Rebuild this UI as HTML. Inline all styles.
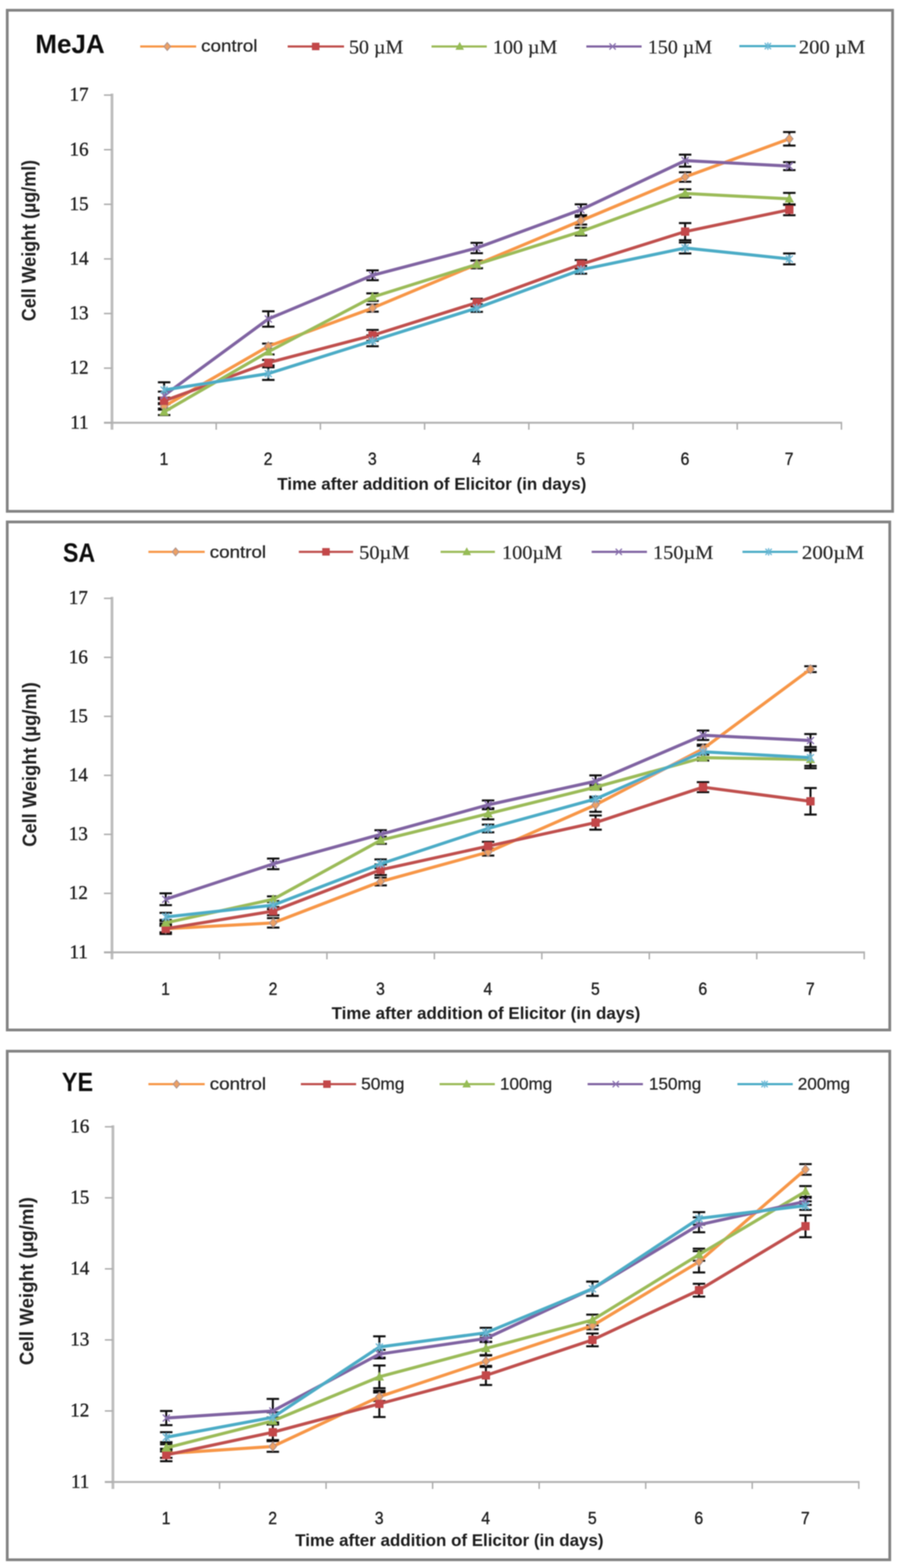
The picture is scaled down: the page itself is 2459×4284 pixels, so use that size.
<!DOCTYPE html>
<html><head><meta charset="utf-8"><title>Cell weight charts</title>
<style>html,body{margin:0;padding:0;background:#fff;}svg{display:block;}</style></head><body>
<svg width="2459" height="4284" viewBox="0 0 2459 4284">
<defs><filter id="soft" filterUnits="userSpaceOnUse" x="0" y="0" width="2459" height="4284"><feGaussianBlur stdDeviation="1.5"/></filter></defs>
<rect width="2459" height="4284" fill="#fff"/>
<g filter="url(#soft)">
<rect x="19.8" y="28" width="2418.9" height="1369" fill="none" stroke="#828282" stroke-width="7.5"/>
<text x="96.5" y="145" font-family="'Liberation Sans', Arial, sans-serif" font-size="72" font-weight="bold" text-anchor="start" fill="#111" textLength="189.5" lengthAdjust="spacingAndGlyphs">MeJA</text>
<line x1="383" y1="127" x2="536" y2="127" stroke="#F79646" stroke-width="6"/>
<path d="M457 116.2L466.2 127L457 137.8L447.8 127Z" fill="#EDA064" stroke="#A89088" stroke-width="2.5"/>
<text x="549.6" y="140.5" font-family="'Liberation Sans', Arial, sans-serif" font-size="47" font-weight="normal" text-anchor="start" fill="#262626" textLength="153.8" lengthAdjust="spacingAndGlyphs" stroke="#262626" stroke-width="0.7">control</text>
<line x1="786" y1="127" x2="940" y2="127" stroke="#C0504D" stroke-width="6"/>
<rect x="853.1" y="117.5" width="18.9" height="18.9" fill="#C4474A" stroke="#B54446" stroke-width="1.5"/>
<text x="953.4" y="146" font-family="'Liberation Serif', 'Times New Roman', serif" font-size="52" font-weight="normal" text-anchor="start" fill="#262626" textLength="148.4" lengthAdjust="spacingAndGlyphs" stroke="#262626" stroke-width="0.5">50 &#181;M</text>
<line x1="1179" y1="127" x2="1330" y2="127" stroke="#9BBB59" stroke-width="6"/>
<path d="M1256 116.1L1266.3 135.3L1245.7 135.3Z" fill="#96BE55" stroke="#92B453" stroke-width="1.5"/>
<text x="1346.8" y="146" font-family="'Liberation Serif', 'Times New Roman', serif" font-size="52" font-weight="normal" text-anchor="start" fill="#262626" textLength="175.8" lengthAdjust="spacingAndGlyphs" stroke="#262626" stroke-width="0.5">100 &#181;M</text>
<line x1="1602" y1="127" x2="1753" y2="127" stroke="#8064A2" stroke-width="6"/>
<path d="M1665.2 118.5L1682.2 135.6M1665.2 135.6L1682.2 118.5" stroke="#8870AE" stroke-width="3.5" fill="none"/>
<text x="1770" y="146" font-family="'Liberation Serif', 'Times New Roman', serif" font-size="52" font-weight="normal" text-anchor="start" fill="#262626" textLength="175.7" lengthAdjust="spacingAndGlyphs" stroke="#262626" stroke-width="0.5">150 &#181;M</text>
<line x1="2020" y1="126" x2="2174" y2="126" stroke="#4BACC6" stroke-width="6"/>
<path d="M2089.4 117.5L2106.6 134.6M2089.4 134.6L2106.6 117.5M2098 115.7L2098 136.3" stroke="#6CB8D6" stroke-width="3.5" fill="none"/>
<text x="2182.5" y="146" font-family="'Liberation Serif', 'Times New Roman', serif" font-size="52" font-weight="normal" text-anchor="start" fill="#262626" textLength="181.3" lengthAdjust="spacingAndGlyphs" stroke="#262626" stroke-width="0.5">200 &#181;M</text>
<line x1="306" y1="255.8" x2="306" y2="1174" stroke="#BDBDBD" stroke-width="7.5"/>
<line x1="284" y1="1155" x2="2301" y2="1155" stroke="#B4B4B4" stroke-width="5.5"/>
<g stroke="#ADADAD" stroke-width="4">
<line x1="284" y1="1155" x2="306" y2="1155"/>
<line x1="284" y1="1005.8" x2="306" y2="1005.8"/>
<line x1="284" y1="856.6" x2="306" y2="856.6"/>
<line x1="284" y1="707.4" x2="306" y2="707.4"/>
<line x1="284" y1="558.2" x2="306" y2="558.2"/>
<line x1="284" y1="409" x2="306" y2="409"/>
<line x1="284" y1="259.8" x2="306" y2="259.8"/>
<line x1="590.7" y1="1155" x2="590.7" y2="1174"/>
<line x1="875.4" y1="1155" x2="875.4" y2="1174"/>
<line x1="1160.1" y1="1155" x2="1160.1" y2="1174"/>
<line x1="1444.9" y1="1155" x2="1444.9" y2="1174"/>
<line x1="1729.6" y1="1155" x2="1729.6" y2="1174"/>
<line x1="2014.3" y1="1155" x2="2014.3" y2="1174"/>
<line x1="2299" y1="1155" x2="2299" y2="1174"/>
</g>
<text x="242" y="1170.5" font-family="'Liberation Serif', 'Times New Roman', serif" font-size="52" font-weight="normal" text-anchor="end" fill="#1e1e1e" stroke="#1e1e1e" stroke-width="0.9">11</text>
<text x="242" y="1021.3" font-family="'Liberation Serif', 'Times New Roman', serif" font-size="52" font-weight="normal" text-anchor="end" fill="#1e1e1e" stroke="#1e1e1e" stroke-width="0.9">12</text>
<text x="242" y="872.1" font-family="'Liberation Serif', 'Times New Roman', serif" font-size="52" font-weight="normal" text-anchor="end" fill="#1e1e1e" stroke="#1e1e1e" stroke-width="0.9">13</text>
<text x="242" y="722.9" font-family="'Liberation Serif', 'Times New Roman', serif" font-size="52" font-weight="normal" text-anchor="end" fill="#1e1e1e" stroke="#1e1e1e" stroke-width="0.9">14</text>
<text x="242" y="573.7" font-family="'Liberation Serif', 'Times New Roman', serif" font-size="52" font-weight="normal" text-anchor="end" fill="#1e1e1e" stroke="#1e1e1e" stroke-width="0.9">15</text>
<text x="242" y="424.5" font-family="'Liberation Serif', 'Times New Roman', serif" font-size="52" font-weight="normal" text-anchor="end" fill="#1e1e1e" stroke="#1e1e1e" stroke-width="0.9">16</text>
<text x="242" y="275.3" font-family="'Liberation Serif', 'Times New Roman', serif" font-size="52" font-weight="normal" text-anchor="end" fill="#1e1e1e" stroke="#1e1e1e" stroke-width="0.9">17</text>
<text x="447.9" y="1270" font-family="'Liberation Sans', Arial, sans-serif" font-size="49" font-weight="normal" text-anchor="middle" fill="#1e1e1e" textLength="24" lengthAdjust="spacingAndGlyphs" stroke="#1e1e1e" stroke-width="0.9">1</text>
<text x="732.6" y="1270" font-family="'Liberation Sans', Arial, sans-serif" font-size="49" font-weight="normal" text-anchor="middle" fill="#1e1e1e" textLength="24" lengthAdjust="spacingAndGlyphs" stroke="#1e1e1e" stroke-width="0.9">2</text>
<text x="1017.3" y="1270" font-family="'Liberation Sans', Arial, sans-serif" font-size="49" font-weight="normal" text-anchor="middle" fill="#1e1e1e" textLength="24" lengthAdjust="spacingAndGlyphs" stroke="#1e1e1e" stroke-width="0.9">3</text>
<text x="1302" y="1270" font-family="'Liberation Sans', Arial, sans-serif" font-size="49" font-weight="normal" text-anchor="middle" fill="#1e1e1e" textLength="24" lengthAdjust="spacingAndGlyphs" stroke="#1e1e1e" stroke-width="0.9">4</text>
<text x="1586.7" y="1270" font-family="'Liberation Sans', Arial, sans-serif" font-size="49" font-weight="normal" text-anchor="middle" fill="#1e1e1e" textLength="24" lengthAdjust="spacingAndGlyphs" stroke="#1e1e1e" stroke-width="0.9">5</text>
<text x="1871.4" y="1270" font-family="'Liberation Sans', Arial, sans-serif" font-size="49" font-weight="normal" text-anchor="middle" fill="#1e1e1e" textLength="24" lengthAdjust="spacingAndGlyphs" stroke="#1e1e1e" stroke-width="0.9">6</text>
<text x="2156.1" y="1270" font-family="'Liberation Sans', Arial, sans-serif" font-size="49" font-weight="normal" text-anchor="middle" fill="#1e1e1e" textLength="24" lengthAdjust="spacingAndGlyphs" stroke="#1e1e1e" stroke-width="0.9">7</text>
<text x="757.5" y="1337.5" font-family="'Liberation Sans', Arial, sans-serif" font-size="46" font-weight="bold" text-anchor="start" fill="#1a1a1a" textLength="844.5" lengthAdjust="spacingAndGlyphs">Time after addition of Elicitor (in days)</text>
<text transform="translate(96.7 657.2) rotate(-90)" x="0" y="0" font-family="'Liberation Sans', Arial, sans-serif" font-size="54" font-weight="bold" text-anchor="middle" fill="#222" textLength="440.5" lengthAdjust="spacingAndGlyphs">Cell Weight (&#181;g/ml)</text>
<g stroke="#111" stroke-width="5.5"><path d="M448.4 1101.3V1119.2M431.4 1101.3H465.4M431.4 1119.2H465.4"/><path d="M733.1 938.7V953.6M716.1 938.7H750.1M716.1 953.6H750.1"/><path d="M1017.8 832V851.4M1000.8 832H1034.8M1000.8 851.4H1034.8"/><path d="M1302.5 711.9V732.8M1285.5 711.9H1319.5M1285.5 732.8H1319.5"/><path d="M1587.2 592.5V613.4M1570.2 592.5H1604.2M1570.2 613.4H1604.2"/><path d="M1871.9 470.8V496.4M1854.9 470.8H1888.9M1854.9 496.4H1888.9"/><path d="M2156.6 360.7V397.7M2139.6 360.7H2173.6M2139.6 397.7H2173.6"/></g>
<g stroke="#111" stroke-width="5.5"><path d="M448.4 1086.4V1104.3M431.4 1086.4H465.4M431.4 1104.3H465.4"/><path d="M733.1 983.4V998.3M716.1 983.4H750.1M716.1 998.3H750.1"/><path d="M1017.8 901.4V931.2M1000.8 901.4H1034.8M1000.8 931.2H1034.8"/><path d="M1302.5 816.3V837.2M1285.5 816.3H1319.5M1285.5 837.2H1319.5"/><path d="M1587.2 710.4V734.3M1570.2 710.4H1604.2M1570.2 734.3H1604.2"/><path d="M1871.9 609.4V656.2M1854.9 609.4H1888.9M1854.9 656.2H1888.9"/><path d="M2156.6 558.2V588M2139.6 558.2H2173.6M2139.6 588H2173.6"/></g>
<g stroke="#111" stroke-width="5.5"><path d="M448.4 1116.2V1134.1M431.4 1116.2H465.4M431.4 1134.1H465.4"/><path d="M733.1 953.6V968.5M716.1 953.6H750.1M716.1 968.5H750.1"/><path d="M1017.8 801.4V822.3M1000.8 801.4H1034.8M1000.8 822.3H1034.8"/><path d="M1302.5 711.9V732.8M1285.5 711.9H1319.5M1285.5 732.8H1319.5"/><path d="M1587.2 622.4V643.2M1570.2 622.4H1604.2M1570.2 643.2H1604.2"/><path d="M1871.9 517.3V539.4M1854.9 517.3H1888.9M1854.9 539.4H1888.9"/><path d="M2156.6 526.9V559.7M2139.6 526.9H2173.6M2139.6 559.7H2173.6"/></g>
<g stroke="#111" stroke-width="5.5"><path d="M448.4 1070V1090.8M431.4 1070H465.4M431.4 1090.8H465.4"/><path d="M733.1 850.6V892.4M716.1 850.6H750.1M716.1 892.4H750.1"/><path d="M1017.8 738.7V765.6M1000.8 738.7H1034.8M1000.8 765.6H1034.8"/><path d="M1302.5 663.4V691.7M1285.5 663.4H1319.5M1285.5 691.7H1319.5"/><path d="M1587.2 558.2V588M1570.2 558.2H1604.2M1570.2 588H1604.2"/><path d="M1871.9 422.4V455.3M1854.9 422.4H1888.9M1854.9 455.3H1888.9"/><path d="M2156.6 442.9V464.7M2139.6 442.9H2173.6M2139.6 464.7H2173.6"/></g>
<g stroke="#111" stroke-width="5.5"><path d="M448.4 1044.6V1086.4M431.4 1044.6H465.4M431.4 1086.4H465.4"/><path d="M733.1 1003.6V1037.9M716.1 1003.6H750.1M716.1 1037.9H750.1"/><path d="M1017.8 916.3V946.1M1000.8 916.3H1034.8M1000.8 946.1H1034.8"/><path d="M1302.5 831.2V852.1M1285.5 831.2H1319.5M1285.5 852.1H1319.5"/><path d="M1587.2 726.8V747.7M1570.2 726.8H1604.2M1570.2 747.7H1604.2"/><path d="M1871.9 662.6V692.5M1854.9 662.6H1888.9M1854.9 692.5H1888.9"/><path d="M2156.6 692.5V722.3M2139.6 692.5H2173.6M2139.6 722.3H2173.6"/></g>
<polyline points="448.4,1110.2 733.1,946.1 1017.8,841.7 1302.5,722.3 1587.2,603 1871.9,483.6 2156.6,379.2" fill="none" stroke="#F79646" stroke-width="8.5" stroke-linejoin="round"/>
<polyline points="448.4,1095.3 733.1,990.9 1017.8,916.3 1302.5,826.8 1587.2,722.3 1871.9,632.8 2156.6,573.1" fill="none" stroke="#C0504D" stroke-width="8.5" stroke-linejoin="round"/>
<polyline points="448.4,1125.2 733.1,961 1017.8,811.8 1302.5,722.3 1587.2,632.8 1871.9,528.4 2156.6,543.3" fill="none" stroke="#9BBB59" stroke-width="8.5" stroke-linejoin="round"/>
<polyline points="448.4,1080.4 733.1,871.5 1017.8,752.2 1302.5,677.6 1587.2,573.1 1871.9,438.8 2156.6,453.8" fill="none" stroke="#8064A2" stroke-width="8.5" stroke-linejoin="round"/>
<polyline points="448.4,1065.5 733.1,1020.7 1017.8,931.2 1302.5,841.7 1587.2,737.2 1871.9,677.6 2156.6,707.4" fill="none" stroke="#4BACC6" stroke-width="8.5" stroke-linejoin="round"/>
<path d="M448.4 1098.2L458.6 1110.2L448.4 1122.2L438.2 1110.2Z" fill="#EDA064" stroke="#A89088" stroke-width="2.5"/>
<path d="M733.1 934.1L743.3 946.1L733.1 958.1L722.9 946.1Z" fill="#EDA064" stroke="#A89088" stroke-width="2.5"/>
<path d="M1017.8 829.7L1028 841.7L1017.8 853.7L1007.6 841.7Z" fill="#EDA064" stroke="#A89088" stroke-width="2.5"/>
<path d="M1302.5 710.3L1312.7 722.3L1302.5 734.3L1292.3 722.3Z" fill="#EDA064" stroke="#A89088" stroke-width="2.5"/>
<path d="M1587.2 591L1597.4 603L1587.2 615L1577 603Z" fill="#EDA064" stroke="#A89088" stroke-width="2.5"/>
<path d="M1871.9 471.6L1882.1 483.6L1871.9 495.6L1861.7 483.6Z" fill="#EDA064" stroke="#A89088" stroke-width="2.5"/>
<path d="M2156.6 367.2L2166.8 379.2L2156.6 391.2L2146.4 379.2Z" fill="#EDA064" stroke="#A89088" stroke-width="2.5"/>
<rect x="437.9" y="1084.8" width="21" height="21" fill="#C4474A" stroke="#B54446" stroke-width="1.5"/>
<rect x="722.6" y="980.4" width="21" height="21" fill="#C4474A" stroke="#B54446" stroke-width="1.5"/>
<rect x="1007.3" y="905.8" width="21" height="21" fill="#C4474A" stroke="#B54446" stroke-width="1.5"/>
<rect x="1292" y="816.3" width="21" height="21" fill="#C4474A" stroke="#B54446" stroke-width="1.5"/>
<rect x="1576.7" y="711.8" width="21" height="21" fill="#C4474A" stroke="#B54446" stroke-width="1.5"/>
<rect x="1861.4" y="622.3" width="21" height="21" fill="#C4474A" stroke="#B54446" stroke-width="1.5"/>
<rect x="2146.1" y="562.6" width="21" height="21" fill="#C4474A" stroke="#B54446" stroke-width="1.5"/>
<path d="M448.4 1113.1L459.9 1134.4L436.9 1134.4Z" fill="#96BE55" stroke="#92B453" stroke-width="1.5"/>
<path d="M733.1 949L744.6 970.2L721.6 970.2Z" fill="#96BE55" stroke="#92B453" stroke-width="1.5"/>
<path d="M1017.8 799.8L1029.3 821L1006.3 821Z" fill="#96BE55" stroke="#92B453" stroke-width="1.5"/>
<path d="M1302.5 710.2L1314 731.5L1291 731.5Z" fill="#96BE55" stroke="#92B453" stroke-width="1.5"/>
<path d="M1587.2 620.7L1598.7 642L1575.7 642Z" fill="#96BE55" stroke="#92B453" stroke-width="1.5"/>
<path d="M1871.9 516.3L1883.4 537.6L1860.4 537.6Z" fill="#96BE55" stroke="#92B453" stroke-width="1.5"/>
<path d="M2156.6 531.2L2168.1 552.5L2145.1 552.5Z" fill="#96BE55" stroke="#92B453" stroke-width="1.5"/>
<path d="M438.9 1070.9L457.9 1089.9M438.9 1089.9L457.9 1070.9" stroke="#8870AE" stroke-width="3.5" fill="none"/>
<path d="M723.6 862L742.6 881M723.6 881L742.6 862" stroke="#8870AE" stroke-width="3.5" fill="none"/>
<path d="M1008.3 742.7L1027.3 761.7M1008.3 761.7L1027.3 742.7" stroke="#8870AE" stroke-width="3.5" fill="none"/>
<path d="M1293 668.1L1312 687.1M1293 687.1L1312 668.1" stroke="#8870AE" stroke-width="3.5" fill="none"/>
<path d="M1577.7 563.6L1596.7 582.6M1577.7 582.6L1596.7 563.6" stroke="#8870AE" stroke-width="3.5" fill="none"/>
<path d="M1862.4 429.3L1881.4 448.3M1862.4 448.3L1881.4 429.3" stroke="#8870AE" stroke-width="3.5" fill="none"/>
<path d="M2147.1 444.3L2166.1 463.3M2147.1 463.3L2166.1 444.3" stroke="#8870AE" stroke-width="3.5" fill="none"/>
<path d="M438.9 1056L457.9 1075M438.9 1075L457.9 1056M448.4 1054.1L448.4 1076.9" stroke="#6CB8D6" stroke-width="3.5" fill="none"/>
<path d="M723.6 1011.2L742.6 1030.2M723.6 1030.2L742.6 1011.2M733.1 1009.3L733.1 1032.1" stroke="#6CB8D6" stroke-width="3.5" fill="none"/>
<path d="M1008.3 921.7L1027.3 940.7M1008.3 940.7L1027.3 921.7M1017.8 919.8L1017.8 942.6" stroke="#6CB8D6" stroke-width="3.5" fill="none"/>
<path d="M1293 832.2L1312 851.2M1293 851.2L1312 832.2M1302.5 830.3L1302.5 853.1" stroke="#6CB8D6" stroke-width="3.5" fill="none"/>
<path d="M1577.7 727.7L1596.7 746.7M1577.7 746.7L1596.7 727.7M1587.2 725.8L1587.2 748.6" stroke="#6CB8D6" stroke-width="3.5" fill="none"/>
<path d="M1862.4 668.1L1881.4 687.1M1862.4 687.1L1881.4 668.1M1871.9 666.2L1871.9 689" stroke="#6CB8D6" stroke-width="3.5" fill="none"/>
<path d="M2147.1 697.9L2166.1 716.9M2147.1 716.9L2166.1 697.9M2156.6 696L2156.6 718.8" stroke="#6CB8D6" stroke-width="3.5" fill="none"/>
<rect x="19.8" y="1426" width="2411.2" height="1388" fill="none" stroke="#828282" stroke-width="7.5"/>
<text x="172" y="1535" font-family="'Liberation Sans', Arial, sans-serif" font-size="72" font-weight="bold" text-anchor="start" fill="#111" textLength="88" lengthAdjust="spacingAndGlyphs">SA</text>
<line x1="405.5" y1="1507.7" x2="559.3" y2="1507.7" stroke="#F79646" stroke-width="6"/>
<path d="M479.7 1496.9L488.9 1507.7L479.7 1518.5L470.5 1507.7Z" fill="#EDA064" stroke="#A89088" stroke-width="2.5"/>
<text x="573" y="1524" font-family="'Liberation Sans', Arial, sans-serif" font-size="47" font-weight="normal" text-anchor="start" fill="#262626" textLength="154" lengthAdjust="spacingAndGlyphs" stroke="#262626" stroke-width="0.7">control</text>
<line x1="816.5" y1="1507.7" x2="964.8" y2="1507.7" stroke="#C0504D" stroke-width="6"/>
<rect x="881.2" y="1498.2" width="18.9" height="18.9" fill="#C4474A" stroke="#B54446" stroke-width="1.5"/>
<text x="981.3" y="1527" font-family="'Liberation Serif', 'Times New Roman', serif" font-size="52" font-weight="normal" text-anchor="start" fill="#262626" textLength="137.4" lengthAdjust="spacingAndGlyphs" stroke="#262626" stroke-width="0.5">50&#181;M</text>
<line x1="1203.8" y1="1507.7" x2="1352.2" y2="1507.7" stroke="#9BBB59" stroke-width="6"/>
<path d="M1275.3 1496.8L1285.6 1516L1265 1516Z" fill="#96BE55" stroke="#92B453" stroke-width="1.5"/>
<text x="1371.4" y="1527" font-family="'Liberation Serif', 'Times New Roman', serif" font-size="52" font-weight="normal" text-anchor="start" fill="#262626" textLength="164.9" lengthAdjust="spacingAndGlyphs" stroke="#262626" stroke-width="0.5">100&#181;M</text>
<line x1="1616.5" y1="1507.7" x2="1767.6" y2="1507.7" stroke="#8064A2" stroke-width="6"/>
<path d="M1682.2 1499.2L1699.2 1516.2M1682.2 1516.2L1699.2 1499.2" stroke="#8870AE" stroke-width="3.5" fill="none"/>
<text x="1784" y="1527" font-family="'Liberation Serif', 'Times New Roman', serif" font-size="52" font-weight="normal" text-anchor="start" fill="#262626" textLength="165" lengthAdjust="spacingAndGlyphs" stroke="#262626" stroke-width="0.5">150&#181;M</text>
<line x1="2028.6" y1="1507.7" x2="2179.7" y2="1507.7" stroke="#4BACC6" stroke-width="6"/>
<path d="M2091.4 1499.2L2108.6 1516.2M2091.4 1516.2L2108.6 1499.2M2100 1497.4L2100 1518" stroke="#6CB8D6" stroke-width="3.5" fill="none"/>
<text x="2190.7" y="1527" font-family="'Liberation Serif', 'Times New Roman', serif" font-size="52" font-weight="normal" text-anchor="start" fill="#262626" textLength="170.3" lengthAdjust="spacingAndGlyphs" stroke="#262626" stroke-width="0.5">200&#181;M</text>
<line x1="306" y1="1630.8" x2="306" y2="2621" stroke="#BDBDBD" stroke-width="7.5"/>
<line x1="284" y1="2602" x2="2363.2" y2="2602" stroke="#B4B4B4" stroke-width="5.5"/>
<g stroke="#ADADAD" stroke-width="4">
<line x1="284" y1="2602" x2="306" y2="2602"/>
<line x1="284" y1="2440.8" x2="306" y2="2440.8"/>
<line x1="284" y1="2279.6" x2="306" y2="2279.6"/>
<line x1="284" y1="2118.4" x2="306" y2="2118.4"/>
<line x1="284" y1="1957.2" x2="306" y2="1957.2"/>
<line x1="284" y1="1796" x2="306" y2="1796"/>
<line x1="284" y1="1634.8" x2="306" y2="1634.8"/>
<line x1="599.6" y1="2602" x2="599.6" y2="2621"/>
<line x1="893.2" y1="2602" x2="893.2" y2="2621"/>
<line x1="1186.8" y1="2602" x2="1186.8" y2="2621"/>
<line x1="1480.4" y1="2602" x2="1480.4" y2="2621"/>
<line x1="1774" y1="2602" x2="1774" y2="2621"/>
<line x1="2067.6" y1="2602" x2="2067.6" y2="2621"/>
<line x1="2361.2" y1="2602" x2="2361.2" y2="2621"/>
</g>
<text x="240" y="2617.5" font-family="'Liberation Serif', 'Times New Roman', serif" font-size="52" font-weight="normal" text-anchor="end" fill="#1e1e1e" stroke="#1e1e1e" stroke-width="0.9">11</text>
<text x="240" y="2456.3" font-family="'Liberation Serif', 'Times New Roman', serif" font-size="52" font-weight="normal" text-anchor="end" fill="#1e1e1e" stroke="#1e1e1e" stroke-width="0.9">12</text>
<text x="240" y="2295.1" font-family="'Liberation Serif', 'Times New Roman', serif" font-size="52" font-weight="normal" text-anchor="end" fill="#1e1e1e" stroke="#1e1e1e" stroke-width="0.9">13</text>
<text x="240" y="2133.9" font-family="'Liberation Serif', 'Times New Roman', serif" font-size="52" font-weight="normal" text-anchor="end" fill="#1e1e1e" stroke="#1e1e1e" stroke-width="0.9">14</text>
<text x="240" y="1972.7" font-family="'Liberation Serif', 'Times New Roman', serif" font-size="52" font-weight="normal" text-anchor="end" fill="#1e1e1e" stroke="#1e1e1e" stroke-width="0.9">15</text>
<text x="240" y="1811.5" font-family="'Liberation Serif', 'Times New Roman', serif" font-size="52" font-weight="normal" text-anchor="end" fill="#1e1e1e" stroke="#1e1e1e" stroke-width="0.9">16</text>
<text x="240" y="1650.3" font-family="'Liberation Serif', 'Times New Roman', serif" font-size="52" font-weight="normal" text-anchor="end" fill="#1e1e1e" stroke="#1e1e1e" stroke-width="0.9">17</text>
<text x="452.3" y="2718" font-family="'Liberation Sans', Arial, sans-serif" font-size="49" font-weight="normal" text-anchor="middle" fill="#1e1e1e" textLength="24" lengthAdjust="spacingAndGlyphs" stroke="#1e1e1e" stroke-width="0.9">1</text>
<text x="745.9" y="2718" font-family="'Liberation Sans', Arial, sans-serif" font-size="49" font-weight="normal" text-anchor="middle" fill="#1e1e1e" textLength="24" lengthAdjust="spacingAndGlyphs" stroke="#1e1e1e" stroke-width="0.9">2</text>
<text x="1039.5" y="2718" font-family="'Liberation Sans', Arial, sans-serif" font-size="49" font-weight="normal" text-anchor="middle" fill="#1e1e1e" textLength="24" lengthAdjust="spacingAndGlyphs" stroke="#1e1e1e" stroke-width="0.9">3</text>
<text x="1333.1" y="2718" font-family="'Liberation Sans', Arial, sans-serif" font-size="49" font-weight="normal" text-anchor="middle" fill="#1e1e1e" textLength="24" lengthAdjust="spacingAndGlyphs" stroke="#1e1e1e" stroke-width="0.9">4</text>
<text x="1626.7" y="2718" font-family="'Liberation Sans', Arial, sans-serif" font-size="49" font-weight="normal" text-anchor="middle" fill="#1e1e1e" textLength="24" lengthAdjust="spacingAndGlyphs" stroke="#1e1e1e" stroke-width="0.9">5</text>
<text x="1920.3" y="2718" font-family="'Liberation Sans', Arial, sans-serif" font-size="49" font-weight="normal" text-anchor="middle" fill="#1e1e1e" textLength="24" lengthAdjust="spacingAndGlyphs" stroke="#1e1e1e" stroke-width="0.9">6</text>
<text x="2213.9" y="2718" font-family="'Liberation Sans', Arial, sans-serif" font-size="49" font-weight="normal" text-anchor="middle" fill="#1e1e1e" textLength="24" lengthAdjust="spacingAndGlyphs" stroke="#1e1e1e" stroke-width="0.9">7</text>
<text x="906" y="2783.5" font-family="'Liberation Sans', Arial, sans-serif" font-size="46" font-weight="bold" text-anchor="start" fill="#1a1a1a" textLength="843.5" lengthAdjust="spacingAndGlyphs">Time after addition of Elicitor (in days)</text>
<text transform="translate(99.2 2088.6) rotate(-90)" x="0" y="0" font-family="'Liberation Sans', Arial, sans-serif" font-size="54" font-weight="bold" text-anchor="middle" fill="#222" textLength="449.7" lengthAdjust="spacingAndGlyphs">Cell Weight (&#181;g/ml)</text>
<g stroke="#111" stroke-width="5.5"><path d="M452.8 2523.3V2551.7M435.8 2523.3H469.8M435.8 2551.7H469.8"/><path d="M746.4 2508.5V2534.3M729.4 2508.5H763.4M729.4 2534.3H763.4"/><path d="M1040 2398.1V2419M1023 2398.1H1057M1023 2419H1057"/><path d="M1333.6 2318.3V2337.6M1316.6 2318.3H1350.6M1316.6 2337.6H1350.6"/><path d="M1627.2 2180.1V2217.9M1610.2 2180.1H1644.2M1610.2 2217.9H1644.2"/><path d="M1920.8 2034.6V2057.1M1903.8 2034.6H1937.8M1903.8 2057.1H1937.8"/><path d="M2214.4 1820.2V1836.3M2197.4 1820.2H2231.4M2197.4 1836.3H2231.4"/></g>
<g stroke="#111" stroke-width="5.5"><path d="M452.8 2527.8V2547.2M435.8 2527.8H469.8M435.8 2547.2H469.8"/><path d="M746.4 2477.9V2500.4M729.4 2477.9H763.4M729.4 2500.4H763.4"/><path d="M1040 2361.8V2390.8M1023 2361.8H1057M1023 2390.8H1057"/><path d="M1333.6 2300.1V2323.6M1316.6 2300.1H1350.6M1316.6 2323.6H1350.6"/><path d="M1627.2 2228V2266.7M1610.2 2228H1644.2M1610.2 2266.7H1644.2"/><path d="M1920.8 2137.1V2164.2M1903.8 2137.1H1937.8M1903.8 2164.2H1937.8"/><path d="M2214.4 2153.1V2225.6M2197.4 2153.1H2231.4M2197.4 2225.6H2231.4"/></g>
<g stroke="#111" stroke-width="5.5"><path d="M452.8 2513.3V2529.5M435.8 2513.3H469.8M435.8 2529.5H469.8"/><path d="M746.4 2448.9V2465M729.4 2448.9H763.4M729.4 2465H763.4"/><path d="M1040 2286V2305.4M1023 2286H1057M1023 2305.4H1057"/><path d="M1333.6 2207.9V2238.5M1316.6 2207.9H1350.6M1316.6 2238.5H1350.6"/><path d="M1627.2 2144.2V2157.1M1610.2 2144.2H1644.2M1610.2 2157.1H1644.2"/><path d="M1920.8 2062V2078.1M1903.8 2062H1937.8M1903.8 2078.1H1937.8"/><path d="M2214.4 2050.7V2099.1M2197.4 2050.7H2231.4M2197.4 2099.1H2231.4"/></g>
<g stroke="#111" stroke-width="5.5"><path d="M452.8 2440.8V2473M435.8 2440.8H469.8M435.8 2473H469.8"/><path d="M746.4 2345.7V2374.7M729.4 2345.7H763.4M729.4 2374.7H763.4"/><path d="M1040 2268.3V2290.9M1023 2268.3H1057M1023 2290.9H1057"/><path d="M1333.6 2186.9V2211.1M1316.6 2186.9H1350.6M1316.6 2211.1H1350.6"/><path d="M1627.2 2118.4V2150.6M1610.2 2118.4H1644.2M1610.2 2150.6H1644.2"/><path d="M1920.8 1995.9V2021.7M1903.8 1995.9H1937.8M1903.8 2021.7H1937.8"/><path d="M2214.4 2005.6V2041M2197.4 2005.6H2231.4M2197.4 2041H2231.4"/></g>
<g stroke="#111" stroke-width="5.5"><path d="M452.8 2494V2516.6M435.8 2494H469.8M435.8 2516.6H469.8"/><path d="M746.4 2461.8V2484.3M729.4 2461.8H763.4M729.4 2484.3H763.4"/><path d="M1040 2348.1V2372.3M1023 2348.1H1057M1023 2372.3H1057"/><path d="M1333.6 2253V2274M1316.6 2253H1350.6M1316.6 2274H1350.6"/><path d="M1627.2 2176.4V2189.3M1610.2 2176.4H1644.2M1610.2 2189.3H1644.2"/><path d="M1920.8 2037.8V2070M1903.8 2037.8H1937.8M1903.8 2070H1937.8"/><path d="M2214.4 2047.5V2092.6M2197.4 2047.5H2231.4M2197.4 2092.6H2231.4"/></g>
<polyline points="452.8,2537.5 746.4,2521.4 1040,2408.6 1333.6,2328 1627.2,2199 1920.8,2045.9 2214.4,1828.2" fill="none" stroke="#F79646" stroke-width="8.5" stroke-linejoin="round"/>
<polyline points="452.8,2537.5 746.4,2489.2 1040,2376.3 1333.6,2311.8 1627.2,2247.4 1920.8,2150.6 2214.4,2189.3" fill="none" stroke="#C0504D" stroke-width="8.5" stroke-linejoin="round"/>
<polyline points="452.8,2521.4 746.4,2456.9 1040,2295.7 1333.6,2223.2 1627.2,2150.6 1920.8,2070 2214.4,2074.9" fill="none" stroke="#9BBB59" stroke-width="8.5" stroke-linejoin="round"/>
<polyline points="452.8,2456.9 746.4,2360.2 1040,2279.6 1333.6,2199 1627.2,2134.5 1920.8,2008.8 2214.4,2023.3" fill="none" stroke="#8064A2" stroke-width="8.5" stroke-linejoin="round"/>
<polyline points="452.8,2505.3 746.4,2473 1040,2360.2 1333.6,2263.5 1627.2,2182.9 1920.8,2053.9 2214.4,2070" fill="none" stroke="#4BACC6" stroke-width="8.5" stroke-linejoin="round"/>
<path d="M452.8 2525.5L463 2537.5L452.8 2549.5L442.6 2537.5Z" fill="#EDA064" stroke="#A89088" stroke-width="2.5"/>
<path d="M746.4 2509.4L756.6 2521.4L746.4 2533.4L736.2 2521.4Z" fill="#EDA064" stroke="#A89088" stroke-width="2.5"/>
<path d="M1040 2396.6L1050.2 2408.6L1040 2420.6L1029.8 2408.6Z" fill="#EDA064" stroke="#A89088" stroke-width="2.5"/>
<path d="M1333.6 2316L1343.8 2328L1333.6 2340L1323.4 2328Z" fill="#EDA064" stroke="#A89088" stroke-width="2.5"/>
<path d="M1627.2 2187L1637.4 2199L1627.2 2211L1617 2199Z" fill="#EDA064" stroke="#A89088" stroke-width="2.5"/>
<path d="M1920.8 2033.9L1931 2045.9L1920.8 2057.9L1910.6 2045.9Z" fill="#EDA064" stroke="#A89088" stroke-width="2.5"/>
<path d="M2214.4 1816.2L2224.6 1828.2L2214.4 1840.2L2204.2 1828.2Z" fill="#EDA064" stroke="#A89088" stroke-width="2.5"/>
<rect x="442.3" y="2527" width="21" height="21" fill="#C4474A" stroke="#B54446" stroke-width="1.5"/>
<rect x="735.9" y="2478.7" width="21" height="21" fill="#C4474A" stroke="#B54446" stroke-width="1.5"/>
<rect x="1029.5" y="2365.8" width="21" height="21" fill="#C4474A" stroke="#B54446" stroke-width="1.5"/>
<rect x="1323.1" y="2301.3" width="21" height="21" fill="#C4474A" stroke="#B54446" stroke-width="1.5"/>
<rect x="1616.7" y="2236.9" width="21" height="21" fill="#C4474A" stroke="#B54446" stroke-width="1.5"/>
<rect x="1910.3" y="2140.1" width="21" height="21" fill="#C4474A" stroke="#B54446" stroke-width="1.5"/>
<rect x="2203.9" y="2178.8" width="21" height="21" fill="#C4474A" stroke="#B54446" stroke-width="1.5"/>
<path d="M452.8 2509.3L464.3 2530.6L441.3 2530.6Z" fill="#96BE55" stroke="#92B453" stroke-width="1.5"/>
<path d="M746.4 2444.8L757.9 2466.1L734.9 2466.1Z" fill="#96BE55" stroke="#92B453" stroke-width="1.5"/>
<path d="M1040 2283.6L1051.5 2304.9L1028.5 2304.9Z" fill="#96BE55" stroke="#92B453" stroke-width="1.5"/>
<path d="M1333.6 2211.1L1345.1 2232.4L1322.1 2232.4Z" fill="#96BE55" stroke="#92B453" stroke-width="1.5"/>
<path d="M1627.2 2138.6L1638.7 2159.8L1615.7 2159.8Z" fill="#96BE55" stroke="#92B453" stroke-width="1.5"/>
<path d="M1920.8 2058L1932.3 2079.2L1909.3 2079.2Z" fill="#96BE55" stroke="#92B453" stroke-width="1.5"/>
<path d="M2214.4 2062.8L2225.9 2084.1L2202.9 2084.1Z" fill="#96BE55" stroke="#92B453" stroke-width="1.5"/>
<path d="M443.3 2447.4L462.3 2466.4M443.3 2466.4L462.3 2447.4" stroke="#8870AE" stroke-width="3.5" fill="none"/>
<path d="M736.9 2350.7L755.9 2369.7M736.9 2369.7L755.9 2350.7" stroke="#8870AE" stroke-width="3.5" fill="none"/>
<path d="M1030.5 2270.1L1049.5 2289.1M1030.5 2289.1L1049.5 2270.1" stroke="#8870AE" stroke-width="3.5" fill="none"/>
<path d="M1324.1 2189.5L1343.1 2208.5M1324.1 2208.5L1343.1 2189.5" stroke="#8870AE" stroke-width="3.5" fill="none"/>
<path d="M1617.7 2125L1636.7 2144M1617.7 2144L1636.7 2125" stroke="#8870AE" stroke-width="3.5" fill="none"/>
<path d="M1911.3 1999.3L1930.3 2018.3M1911.3 2018.3L1930.3 1999.3" stroke="#8870AE" stroke-width="3.5" fill="none"/>
<path d="M2204.9 2013.8L2223.9 2032.8M2204.9 2032.8L2223.9 2013.8" stroke="#8870AE" stroke-width="3.5" fill="none"/>
<path d="M443.3 2495.8L462.3 2514.8M443.3 2514.8L462.3 2495.8M452.8 2493.9L452.8 2516.7" stroke="#6CB8D6" stroke-width="3.5" fill="none"/>
<path d="M736.9 2463.5L755.9 2482.5M736.9 2482.5L755.9 2463.5M746.4 2461.6L746.4 2484.4" stroke="#6CB8D6" stroke-width="3.5" fill="none"/>
<path d="M1030.5 2350.7L1049.5 2369.7M1030.5 2369.7L1049.5 2350.7M1040 2348.8L1040 2371.6" stroke="#6CB8D6" stroke-width="3.5" fill="none"/>
<path d="M1324.1 2254L1343.1 2273M1324.1 2273L1343.1 2254M1333.6 2252.1L1333.6 2274.9" stroke="#6CB8D6" stroke-width="3.5" fill="none"/>
<path d="M1617.7 2173.4L1636.7 2192.4M1617.7 2192.4L1636.7 2173.4M1627.2 2171.5L1627.2 2194.3" stroke="#6CB8D6" stroke-width="3.5" fill="none"/>
<path d="M1911.3 2044.4L1930.3 2063.4M1911.3 2063.4L1930.3 2044.4M1920.8 2042.5L1920.8 2065.3" stroke="#6CB8D6" stroke-width="3.5" fill="none"/>
<path d="M2204.9 2060.5L2223.9 2079.5M2204.9 2079.5L2223.9 2060.5M2214.4 2058.6L2214.4 2081.4" stroke="#6CB8D6" stroke-width="3.5" fill="none"/>
<rect x="19.8" y="2872" width="2411.2" height="1389.5" fill="none" stroke="#828282" stroke-width="7.5"/>
<text x="169" y="2981" font-family="'Liberation Sans', Arial, sans-serif" font-size="72" font-weight="bold" text-anchor="start" fill="#111" textLength="85.4" lengthAdjust="spacingAndGlyphs">YE</text>
<line x1="405.5" y1="2962" x2="559.3" y2="2962" stroke="#F79646" stroke-width="6"/>
<path d="M482.4 2951.2L491.6 2962L482.4 2972.8L473.2 2962Z" fill="#EDA064" stroke="#A89088" stroke-width="2.5"/>
<text x="573" y="2977" font-family="'Liberation Sans', Arial, sans-serif" font-size="47" font-weight="normal" text-anchor="start" fill="#262626" textLength="154" lengthAdjust="spacingAndGlyphs" stroke="#262626" stroke-width="0.7">control</text>
<line x1="822" y1="2962" x2="973" y2="2962" stroke="#C0504D" stroke-width="6"/>
<rect x="883.9" y="2952.6" width="18.9" height="18.9" fill="#C4474A" stroke="#B54446" stroke-width="1.5"/>
<text x="986.8" y="2977" font-family="'Liberation Sans', Arial, sans-serif" font-size="47" font-weight="normal" text-anchor="start" fill="#262626" textLength="118.2" lengthAdjust="spacingAndGlyphs" stroke="#262626" stroke-width="0.7">50mg</text>
<line x1="1201" y1="2962" x2="1352" y2="2962" stroke="#9BBB59" stroke-width="6"/>
<path d="M1275 2951.1L1285.3 2970.3L1264.7 2970.3Z" fill="#96BE55" stroke="#92B453" stroke-width="1.5"/>
<text x="1366" y="2977" font-family="'Liberation Sans', Arial, sans-serif" font-size="47" font-weight="normal" text-anchor="start" fill="#262626" textLength="142.8" lengthAdjust="spacingAndGlyphs" stroke="#262626" stroke-width="0.7">100mg</text>
<line x1="1605.5" y1="2962" x2="1756.6" y2="2962" stroke="#8064A2" stroke-width="6"/>
<path d="M1673.9 2953.4L1691 2970.6M1673.9 2970.6L1691 2953.4" stroke="#8870AE" stroke-width="3.5" fill="none"/>
<text x="1773" y="2977" font-family="'Liberation Sans', Arial, sans-serif" font-size="47" font-weight="normal" text-anchor="start" fill="#262626" textLength="143" lengthAdjust="spacingAndGlyphs" stroke="#262626" stroke-width="0.7">150mg</text>
<line x1="2014.8" y1="2962" x2="2166" y2="2962" stroke="#4BACC6" stroke-width="6"/>
<path d="M2080.4 2953.4L2097.6 2970.6M2080.4 2970.6L2097.6 2953.4M2089 2951.7L2089 2972.3" stroke="#6CB8D6" stroke-width="3.5" fill="none"/>
<text x="2179.7" y="2977" font-family="'Liberation Sans', Arial, sans-serif" font-size="47" font-weight="normal" text-anchor="start" fill="#262626" textLength="142.8" lengthAdjust="spacingAndGlyphs" stroke="#262626" stroke-width="0.7">200mg</text>
<line x1="308.5" y1="3074.5" x2="308.5" y2="4068" stroke="#BDBDBD" stroke-width="7.5"/>
<line x1="286.5" y1="4049" x2="2348.4" y2="4049" stroke="#B4B4B4" stroke-width="5.5"/>
<g stroke="#ADADAD" stroke-width="4">
<line x1="286.5" y1="4049" x2="308.5" y2="4049"/>
<line x1="286.5" y1="3854.9" x2="308.5" y2="3854.9"/>
<line x1="286.5" y1="3660.8" x2="308.5" y2="3660.8"/>
<line x1="286.5" y1="3466.7" x2="308.5" y2="3466.7"/>
<line x1="286.5" y1="3272.6" x2="308.5" y2="3272.6"/>
<line x1="286.5" y1="3078.5" x2="308.5" y2="3078.5"/>
<line x1="599.8" y1="4049" x2="599.8" y2="4068"/>
<line x1="890.9" y1="4049" x2="890.9" y2="4068"/>
<line x1="1182" y1="4049" x2="1182" y2="4068"/>
<line x1="1473.1" y1="4049" x2="1473.1" y2="4068"/>
<line x1="1764.2" y1="4049" x2="1764.2" y2="4068"/>
<line x1="2055.3" y1="4049" x2="2055.3" y2="4068"/>
<line x1="2346.4" y1="4049" x2="2346.4" y2="4068"/>
</g>
<text x="244" y="4064.5" font-family="'Liberation Serif', 'Times New Roman', serif" font-size="52" font-weight="normal" text-anchor="end" fill="#1e1e1e" stroke="#1e1e1e" stroke-width="0.9">11</text>
<text x="244" y="3870.4" font-family="'Liberation Serif', 'Times New Roman', serif" font-size="52" font-weight="normal" text-anchor="end" fill="#1e1e1e" stroke="#1e1e1e" stroke-width="0.9">12</text>
<text x="244" y="3676.3" font-family="'Liberation Serif', 'Times New Roman', serif" font-size="52" font-weight="normal" text-anchor="end" fill="#1e1e1e" stroke="#1e1e1e" stroke-width="0.9">13</text>
<text x="244" y="3482.2" font-family="'Liberation Serif', 'Times New Roman', serif" font-size="52" font-weight="normal" text-anchor="end" fill="#1e1e1e" stroke="#1e1e1e" stroke-width="0.9">14</text>
<text x="244" y="3288.1" font-family="'Liberation Serif', 'Times New Roman', serif" font-size="52" font-weight="normal" text-anchor="end" fill="#1e1e1e" stroke="#1e1e1e" stroke-width="0.9">15</text>
<text x="244" y="3094" font-family="'Liberation Serif', 'Times New Roman', serif" font-size="52" font-weight="normal" text-anchor="end" fill="#1e1e1e" stroke="#1e1e1e" stroke-width="0.9">16</text>
<text x="453.8" y="4164" font-family="'Liberation Sans', Arial, sans-serif" font-size="49" font-weight="normal" text-anchor="middle" fill="#1e1e1e" textLength="24" lengthAdjust="spacingAndGlyphs" stroke="#1e1e1e" stroke-width="0.9">1</text>
<text x="744.9" y="4164" font-family="'Liberation Sans', Arial, sans-serif" font-size="49" font-weight="normal" text-anchor="middle" fill="#1e1e1e" textLength="24" lengthAdjust="spacingAndGlyphs" stroke="#1e1e1e" stroke-width="0.9">2</text>
<text x="1036" y="4164" font-family="'Liberation Sans', Arial, sans-serif" font-size="49" font-weight="normal" text-anchor="middle" fill="#1e1e1e" textLength="24" lengthAdjust="spacingAndGlyphs" stroke="#1e1e1e" stroke-width="0.9">3</text>
<text x="1327.1" y="4164" font-family="'Liberation Sans', Arial, sans-serif" font-size="49" font-weight="normal" text-anchor="middle" fill="#1e1e1e" textLength="24" lengthAdjust="spacingAndGlyphs" stroke="#1e1e1e" stroke-width="0.9">4</text>
<text x="1618.2" y="4164" font-family="'Liberation Sans', Arial, sans-serif" font-size="49" font-weight="normal" text-anchor="middle" fill="#1e1e1e" textLength="24" lengthAdjust="spacingAndGlyphs" stroke="#1e1e1e" stroke-width="0.9">5</text>
<text x="1909.3" y="4164" font-family="'Liberation Sans', Arial, sans-serif" font-size="49" font-weight="normal" text-anchor="middle" fill="#1e1e1e" textLength="24" lengthAdjust="spacingAndGlyphs" stroke="#1e1e1e" stroke-width="0.9">6</text>
<text x="2200.3" y="4164" font-family="'Liberation Sans', Arial, sans-serif" font-size="49" font-weight="normal" text-anchor="middle" fill="#1e1e1e" textLength="24" lengthAdjust="spacingAndGlyphs" stroke="#1e1e1e" stroke-width="0.9">7</text>
<text x="806.5" y="4223.5" font-family="'Liberation Sans', Arial, sans-serif" font-size="46" font-weight="bold" text-anchor="start" fill="#1a1a1a" textLength="842.5" lengthAdjust="spacingAndGlyphs">Time after addition of Elicitor (in days)</text>
<text transform="translate(90.5 3500.2) rotate(-90)" x="0" y="0" font-family="'Liberation Sans', Arial, sans-serif" font-size="54" font-weight="bold" text-anchor="middle" fill="#222" textLength="459.1" lengthAdjust="spacingAndGlyphs">Cell Weight (&#181;g/ml)</text>
<g stroke="#111" stroke-width="5.5"><path d="M454.2 3959.7V3983M437.2 3959.7H471.2M437.2 3983H471.2"/><path d="M745.4 3937.4V3966.5M728.4 3937.4H762.4M728.4 3966.5H762.4"/><path d="M1036.5 3804.4V3827.7M1019.5 3804.4H1053.5M1019.5 3827.7H1053.5"/><path d="M1327.6 3703.5V3734.6M1310.6 3703.5H1344.6M1310.6 3734.6H1344.6"/><path d="M1618.7 3612.3V3631.7M1601.7 3612.3H1635.7M1601.7 3631.7H1635.7"/><path d="M1909.8 3418.2V3476.4M1892.8 3418.2H1926.8M1892.8 3476.4H1926.8"/><path d="M2200.8 3180.4V3209.5M2183.8 3180.4H2217.8M2183.8 3209.5H2217.8"/></g>
<g stroke="#111" stroke-width="5.5"><path d="M454.2 3958.2V3992.3M437.2 3958.2H471.2M437.2 3992.3H471.2"/><path d="M745.4 3891.8V3934.5M728.4 3891.8H762.4M728.4 3934.5H762.4"/><path d="M1036.5 3799.6V3871.4M1019.5 3799.6H1053.5M1019.5 3871.4H1053.5"/><path d="M1327.6 3731.8V3783.9M1310.6 3731.8H1344.6M1310.6 3783.9H1344.6"/><path d="M1618.7 3643.3V3678.3M1601.7 3643.3H1635.7M1601.7 3678.3H1635.7"/><path d="M1909.8 3507.5V3542.4M1892.8 3507.5H1926.8M1892.8 3542.4H1926.8"/><path d="M2200.8 3320.2V3380.3M2183.8 3320.2H2217.8M2183.8 3380.3H2217.8"/></g>
<g stroke="#111" stroke-width="5.5"><path d="M454.2 3946.1V3965.5M437.2 3946.1H471.2M437.2 3965.5H471.2"/><path d="M745.4 3872.4V3891.8M728.4 3872.4H762.4M728.4 3891.8H762.4"/><path d="M1036.5 3730.7V3792.8M1019.5 3730.7H1053.5M1019.5 3792.8H1053.5"/><path d="M1327.6 3665.8V3702.3M1310.6 3665.8H1344.6M1310.6 3702.3H1344.6"/><path d="M1618.7 3591.7V3621.2M1601.7 3591.7H1635.7M1601.7 3621.2H1635.7"/><path d="M1909.8 3411.4V3444.4M1892.8 3411.4H1926.8M1892.8 3444.4H1926.8"/><path d="M2200.8 3240.6V3269.7M2183.8 3240.6H2217.8M2183.8 3269.7H2217.8"/></g>
<g stroke="#111" stroke-width="5.5"><path d="M454.2 3854.9V3893.7M437.2 3854.9H471.2M437.2 3893.7H471.2"/><path d="M745.4 3821.9V3887.9M728.4 3821.9H762.4M728.4 3887.9H762.4"/><path d="M1036.5 3688V3711.3M1019.5 3688H1053.5M1019.5 3711.3H1053.5"/><path d="M1327.6 3647.2V3666.6M1310.6 3647.2H1344.6M1310.6 3666.6H1344.6"/><path d="M1618.7 3501.6V3540.5M1601.7 3501.6H1635.7M1601.7 3540.5H1635.7"/><path d="M1909.8 3326V3366.7M1892.8 3326H1926.8M1892.8 3366.7H1926.8"/><path d="M2200.8 3272.6V3292M2183.8 3272.6H2217.8M2183.8 3292H2217.8"/></g>
<g stroke="#111" stroke-width="5.5"><path d="M454.2 3913.1V3940.3M437.2 3913.1H471.2M437.2 3940.3H471.2"/><path d="M745.4 3858.8V3886M728.4 3858.8H762.4M728.4 3886H762.4"/><path d="M1036.5 3651.1V3709.3M1019.5 3651.1H1053.5M1019.5 3709.3H1053.5"/><path d="M1327.6 3627.8V3655M1310.6 3627.8H1344.6M1310.6 3655H1344.6"/><path d="M1618.7 3501.6V3540.5M1601.7 3501.6H1635.7M1601.7 3540.5H1635.7"/><path d="M1909.8 3311.8V3346M1892.8 3311.8H1926.8M1892.8 3346H1926.8"/><path d="M2200.8 3282.3V3305.6M2183.8 3282.3H2217.8M2183.8 3305.6H2217.8"/></g>
<polyline points="454.2,3971.4 745.4,3951.9 1036.5,3816.1 1327.6,3719 1618.7,3622 1909.8,3447.3 2200.8,3195" fill="none" stroke="#F79646" stroke-width="8.5" stroke-linejoin="round"/>
<polyline points="454.2,3975.2 745.4,3913.1 1036.5,3835.5 1327.6,3757.8 1618.7,3660.8 1909.8,3524.9 2200.8,3350.2" fill="none" stroke="#C0504D" stroke-width="8.5" stroke-linejoin="round"/>
<polyline points="454.2,3955.8 745.4,3882.1 1036.5,3761.7 1327.6,3684.1 1618.7,3606.5 1909.8,3427.9 2200.8,3255.1" fill="none" stroke="#9BBB59" stroke-width="8.5" stroke-linejoin="round"/>
<polyline points="454.2,3874.3 745.4,3854.9 1036.5,3699.6 1327.6,3656.9 1618.7,3521 1909.8,3346.4 2200.8,3282.3" fill="none" stroke="#8064A2" stroke-width="8.5" stroke-linejoin="round"/>
<polyline points="454.2,3926.7 745.4,3872.4 1036.5,3680.2 1327.6,3641.4 1618.7,3521 1909.8,3328.9 2200.8,3294" fill="none" stroke="#4BACC6" stroke-width="8.5" stroke-linejoin="round"/>
<path d="M454.2 3959.4L464.4 3971.4L454.2 3983.4L444.1 3971.4Z" fill="#EDA064" stroke="#A89088" stroke-width="2.5"/>
<path d="M745.4 3939.9L755.6 3951.9L745.4 3963.9L735.1 3951.9Z" fill="#EDA064" stroke="#A89088" stroke-width="2.5"/>
<path d="M1036.5 3804.1L1046.7 3816.1L1036.5 3828.1L1026.2 3816.1Z" fill="#EDA064" stroke="#A89088" stroke-width="2.5"/>
<path d="M1327.6 3707L1337.8 3719L1327.6 3731L1317.4 3719Z" fill="#EDA064" stroke="#A89088" stroke-width="2.5"/>
<path d="M1618.7 3610L1628.9 3622L1618.7 3634L1608.5 3622Z" fill="#EDA064" stroke="#A89088" stroke-width="2.5"/>
<path d="M1909.8 3435.3L1920 3447.3L1909.8 3459.3L1899.6 3447.3Z" fill="#EDA064" stroke="#A89088" stroke-width="2.5"/>
<path d="M2200.8 3183L2211 3195L2200.8 3207L2190.7 3195Z" fill="#EDA064" stroke="#A89088" stroke-width="2.5"/>
<rect x="443.8" y="3964.7" width="21" height="21" fill="#C4474A" stroke="#B54446" stroke-width="1.5"/>
<rect x="734.9" y="3902.6" width="21" height="21" fill="#C4474A" stroke="#B54446" stroke-width="1.5"/>
<rect x="1026" y="3825" width="21" height="21" fill="#C4474A" stroke="#B54446" stroke-width="1.5"/>
<rect x="1317.1" y="3747.3" width="21" height="21" fill="#C4474A" stroke="#B54446" stroke-width="1.5"/>
<rect x="1608.2" y="3650.3" width="21" height="21" fill="#C4474A" stroke="#B54446" stroke-width="1.5"/>
<rect x="1899.3" y="3514.4" width="21" height="21" fill="#C4474A" stroke="#B54446" stroke-width="1.5"/>
<rect x="2190.3" y="3339.7" width="21" height="21" fill="#C4474A" stroke="#B54446" stroke-width="1.5"/>
<path d="M454.2 3943.8L465.8 3965L442.8 3965Z" fill="#96BE55" stroke="#92B453" stroke-width="1.5"/>
<path d="M745.4 3870L756.9 3891.3L733.9 3891.3Z" fill="#96BE55" stroke="#92B453" stroke-width="1.5"/>
<path d="M1036.5 3749.7L1048 3770.9L1025 3770.9Z" fill="#96BE55" stroke="#92B453" stroke-width="1.5"/>
<path d="M1327.6 3672L1339.1 3693.3L1316.1 3693.3Z" fill="#96BE55" stroke="#92B453" stroke-width="1.5"/>
<path d="M1618.7 3594.4L1630.2 3615.7L1607.2 3615.7Z" fill="#96BE55" stroke="#92B453" stroke-width="1.5"/>
<path d="M1909.8 3415.8L1921.3 3437.1L1898.3 3437.1Z" fill="#96BE55" stroke="#92B453" stroke-width="1.5"/>
<path d="M2200.8 3243.1L2212.3 3264.3L2189.3 3264.3Z" fill="#96BE55" stroke="#92B453" stroke-width="1.5"/>
<path d="M444.8 3864.8L463.8 3883.8M444.8 3883.8L463.8 3864.8" stroke="#8870AE" stroke-width="3.5" fill="none"/>
<path d="M735.9 3845.4L754.9 3864.4M735.9 3864.4L754.9 3845.4" stroke="#8870AE" stroke-width="3.5" fill="none"/>
<path d="M1027 3690.1L1046 3709.1M1027 3709.1L1046 3690.1" stroke="#8870AE" stroke-width="3.5" fill="none"/>
<path d="M1318.1 3647.4L1337.1 3666.4M1318.1 3666.4L1337.1 3647.4" stroke="#8870AE" stroke-width="3.5" fill="none"/>
<path d="M1609.2 3511.5L1628.2 3530.5M1609.2 3530.5L1628.2 3511.5" stroke="#8870AE" stroke-width="3.5" fill="none"/>
<path d="M1900.3 3336.9L1919.3 3355.9M1900.3 3355.9L1919.3 3336.9" stroke="#8870AE" stroke-width="3.5" fill="none"/>
<path d="M2191.3 3272.8L2210.3 3291.8M2191.3 3291.8L2210.3 3272.8" stroke="#8870AE" stroke-width="3.5" fill="none"/>
<path d="M444.8 3917.2L463.8 3936.2M444.8 3936.2L463.8 3917.2M454.2 3915.3L454.2 3938.1" stroke="#6CB8D6" stroke-width="3.5" fill="none"/>
<path d="M735.9 3862.9L754.9 3881.9M735.9 3881.9L754.9 3862.9M745.4 3861L745.4 3883.8" stroke="#6CB8D6" stroke-width="3.5" fill="none"/>
<path d="M1027 3670.7L1046 3689.7M1027 3689.7L1046 3670.7M1036.5 3668.8L1036.5 3691.6" stroke="#6CB8D6" stroke-width="3.5" fill="none"/>
<path d="M1318.1 3631.9L1337.1 3650.9M1318.1 3650.9L1337.1 3631.9M1327.6 3630L1327.6 3652.8" stroke="#6CB8D6" stroke-width="3.5" fill="none"/>
<path d="M1609.2 3511.5L1628.2 3530.5M1609.2 3530.5L1628.2 3511.5M1618.7 3509.6L1618.7 3532.4" stroke="#6CB8D6" stroke-width="3.5" fill="none"/>
<path d="M1900.3 3319.4L1919.3 3338.4M1900.3 3338.4L1919.3 3319.4M1909.8 3317.5L1909.8 3340.3" stroke="#6CB8D6" stroke-width="3.5" fill="none"/>
<path d="M2191.3 3284.5L2210.3 3303.5M2191.3 3303.5L2210.3 3284.5M2200.8 3282.6L2200.8 3305.4" stroke="#6CB8D6" stroke-width="3.5" fill="none"/>
</g>
</svg></body></html>
